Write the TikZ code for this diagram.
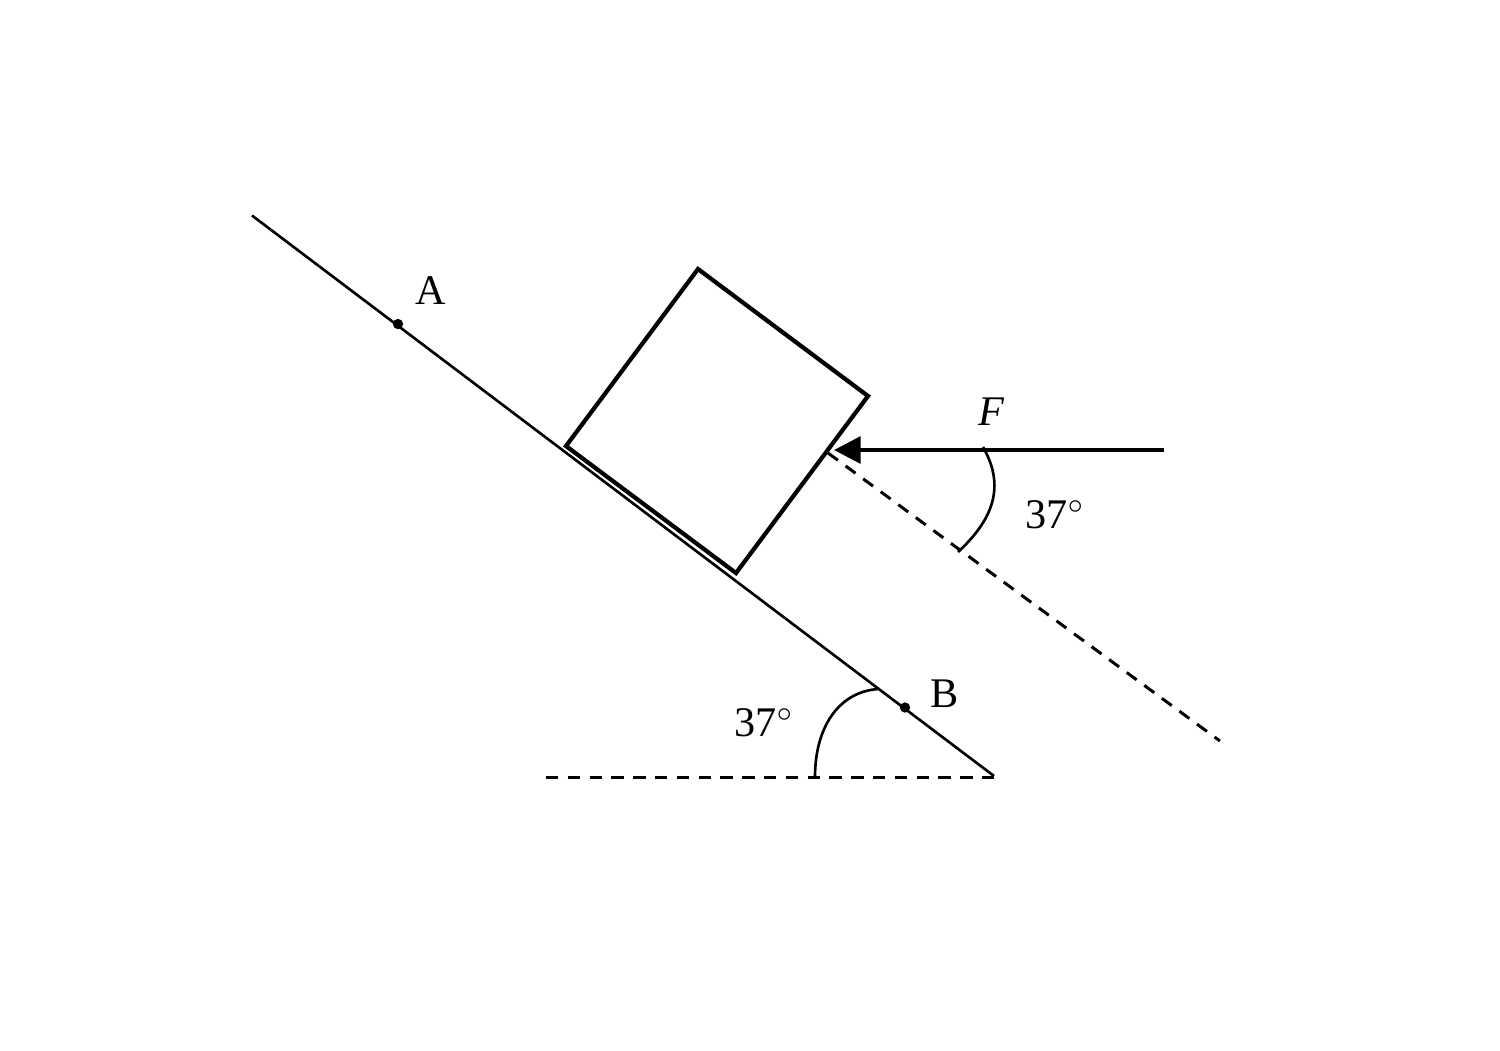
\documentclass[tikz,border=0pt]{standalone}
\usepackage{fontspec}
\setmainfont{Liberation Serif}
\usetikzlibrary{arrows.meta}

\tikzset{
    thinline/.style={black, line width=0.75pt},
    thickline/.style={black, line width=1.2pt},
    dashline/.style={black, line width=0.85pt, dash pattern=on 3.5pt off 2.7pt},
    pointdot/.style={draw=black, fill=black, line width=0.4pt, circle, inner sep=0pt, minimum size=2.5pt},
    label/.style={font=\fontsize{12}{14}\selectfont, inner sep=0pt}
}

\begin{document}
\begin{tikzpicture}[x=0.01cm, y=-0.01cm]
        \useasboundingbox (0,0) rectangle (1500,1050);

        % incline
        \coordinate (top) at (252,215.5);
        \coordinate (foot) at (994,776);
        \coordinate (ground) at (546,777);
        \coordinate (groundend) at (994,777);
        \draw[thinline] (top) -- (foot);
        \draw[dashline] (ground) -- (groundend);

        % block
        \coordinate (c1) at (698,269);
        \coordinate (c2) at (868,396);
        \coordinate (c3) at (736,573);
        \coordinate (c4) at (566,446);
        \draw[thickline, line join=miter] (c1) -- (c2) -- (c3) -- (c4) -- cycle;

        % force
        \coordinate (tail) at (1164,450);
        \coordinate (tip) at (834,450);
        \coordinate (dashstart) at (828,453);
        \coordinate (dashend) at (1220,741);
        \draw[thickline, -{Triangle[length=7.6pt, width=7.6pt]}] (tail) -- (tip);
        \draw[dashline] (dashstart) -- (dashend);

        % angles
        \coordinate (a1) at (983,447);
        \coordinate (a2) at (958,552);
        \coordinate (b1) at (815,777);
        \coordinate (b2) at (878,689);
        \draw[thinline] (a1) .. controls (1003,482) and (998,515) .. (a2);
        \draw[thinline] (b1) .. controls (815,728) and (838,692) .. (b2);

        % points
        \node[pointdot] (dota) at (398,324) {};
        \node[pointdot] (dotb) at (905,707.5) {};

        \node[label] (labela) at (431,291) {A};
        \node[label] (labelb) at (945,694) {B};
        \node[label] (labelf) at (992,412) {\textit{F}};
        \node[label] (anglef) at (1055,515) {37$^\circ$};
        \node[label] (angleb) at (764,723) {37$^\circ$};
\end{tikzpicture}
\end{document}
